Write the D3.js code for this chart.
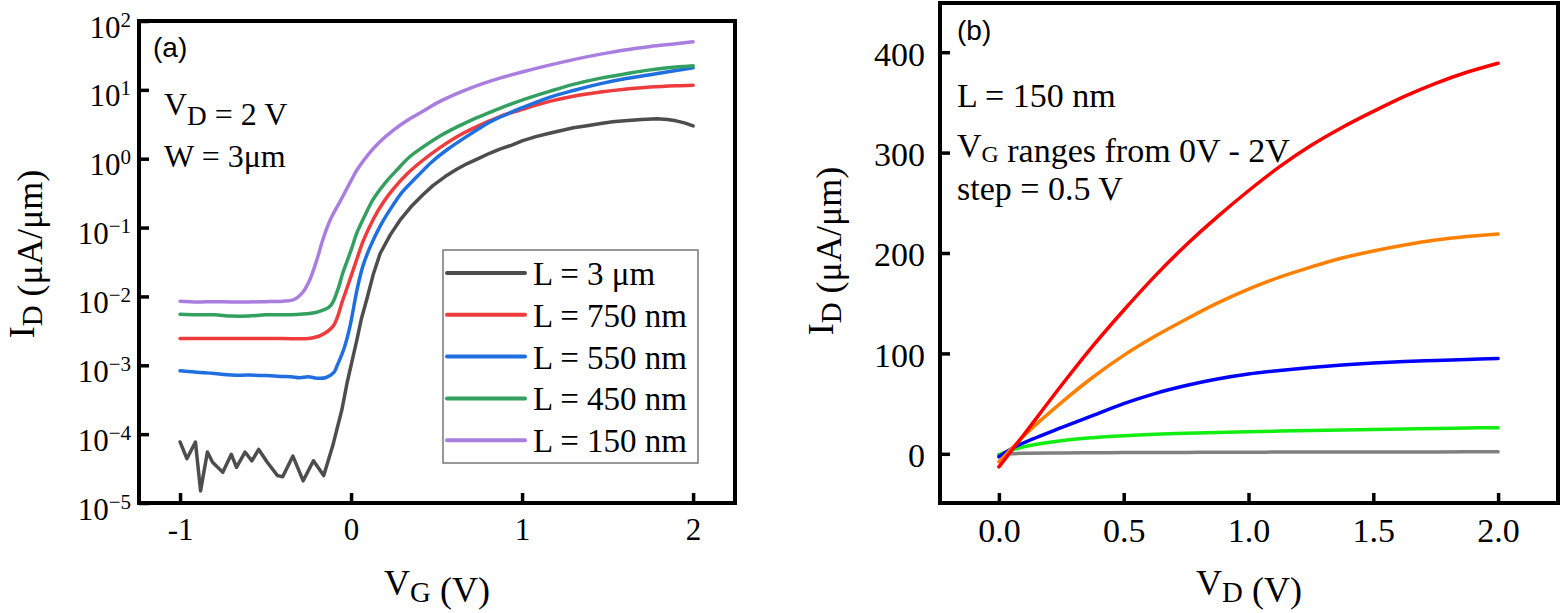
<!DOCTYPE html>
<html>
<head>
<meta charset="utf-8">
<script src="https://cdn.jsdelivr.net/npm/d3@7"></script>
<style>
  body { margin: 0; background: #fff; }
  svg { display: block; }
</style>
</head>
<body>
<script>
// ---------- panel (a): ID-VG at VD = 2 V, W = 3 um ----------
const vg3um = [-1, -0.96, -0.91, -0.88, -0.84, -0.81, -0.75, -0.70, -0.67, -0.62, -0.58, -0.54, -0.49, -0.43, -0.40, -0.34, -0.28, -0.22, -0.16, -0.105,
  -0.053, -0.023, 0.035, 0.06, 0.094, 0.13, 0.17, 0.23, 0.29, 0.35, 0.42, 0.48, 0.55, 0.62, 0.68, 0.75, 0.81, 0.87, 0.94, 1.0,
  1.08, 1.16, 1.23, 1.3, 1.38, 1.46, 1.53, 1.6, 1.7, 1.79, 1.85, 1.9, 1.95, 2.0];
const id3um = [7.7e-5, 4.4e-5, 7.7e-5, 1.5e-5, 5.5e-5, 3.9e-5, 2.8e-5, 5.1e-5, 3.3e-5, 5.5e-5, 4.1e-5, 6.0e-5, 3.9e-5, 2.5e-5, 2.4e-5, 4.8e-5, 2.1e-5, 4.1e-5, 2.5e-5, 7.1e-5,
  2.3e-4, 5.6e-4, 2.4e-3, 4.7e-3, 9.5e-3, 2.1e-2, 4.2e-2, 7.9e-2, 0.132, 0.2, 0.30, 0.41, 0.55, 0.71, 0.85, 1.02, 1.20, 1.38, 1.58, 1.82,
  2.09, 2.34, 2.57, 2.82, 3.02, 3.24, 3.43, 3.55, 3.72, 3.8, 3.72, 3.55, 3.31, 3.0];

const vg750 = [-1, -0.8, -0.6, -0.4, -0.25, -0.18, -0.105, -0.047, -0.006, 0.035, 0.07, 0.13, 0.187, 0.25, 0.327, 0.42, 0.52, 0.65, 0.81, 0.87,
  1.0, 1.16, 1.3, 1.46, 1.6, 1.75, 1.9, 2.0];
const id750 = [2.45e-3, 2.45e-3, 2.45e-3, 2.45e-3, 2.45e-3, 2.7e-3, 3.7e-3, 9.1e-3, 1.78e-2, 3.55e-2, 6.3e-2, 0.132, 0.229, 0.37, 0.60, 0.95, 1.45, 2.3, 3.55, 4.1,
  5.2, 6.8, 8.1, 9.3, 10.2, 11.0, 11.5, 11.7];

const vg550 = [-1, -0.95, -0.9, -0.8, -0.7, -0.6, -0.5, -0.4, -0.35, -0.3, -0.25, -0.2, -0.15, -0.1, -0.082, -0.04, -0.006, 0.035, 0.07, 0.111,
  0.17, 0.228, 0.3, 0.386, 0.47, 0.561, 0.7, 0.81, 0.87, 1.0, 1.16, 1.3, 1.46, 1.6, 1.75, 1.9, 2.0];
const id550 = [8.3e-4, 8.1e-4, 7.9e-4, 7.6e-4, 7.2e-4, 7.2e-4, 7.1e-4, 6.9e-4, 6.8e-4, 6.6e-4, 6.8e-4, 6.5e-4, 6.6e-4, 7.9e-4, 9.8e-4, 1.78e-3, 3.7e-3, 1.26e-2, 2.8e-2, 5.2e-2,
  0.105, 0.182, 0.33, 0.55, 0.89, 1.35, 2.3, 3.4, 4.0, 5.5, 7.8, 9.8, 12.3, 14.5, 16.6, 19.1, 20.9];

const vg450 = [-1, -0.9, -0.8, -0.7, -0.6, -0.5, -0.4, -0.3, -0.2, -0.123, -0.08, -0.047, 0, 0.035, 0.08, 0.129, 0.2, 0.269, 0.34, 0.421,
  0.52, 0.62, 0.72, 0.81, 0.87, 1.0, 1.16, 1.3, 1.46, 1.6, 1.75, 1.9, 2.0];
const id450 = [5.5e-3, 5.4e-3, 5.4e-3, 5.2e-3, 5.2e-3, 5.4e-3, 5.4e-3, 5.5e-3, 5.9e-3, 7.2e-3, 1.2e-2, 2.24e-2, 4.7e-2, 8.5e-2, 0.148, 0.257, 0.447, 0.69, 1.05, 1.48,
  2.14, 2.9, 3.8, 4.7, 5.4, 7.1, 9.5, 12.0, 14.8, 17.0, 19.5, 21.4, 22.4];

const vg150 = [-1, -0.9, -0.8, -0.7, -0.6, -0.5, -0.4, -0.33, -0.28, -0.24, -0.2, -0.164, -0.12, -0.064, 0, 0.035, 0.1, 0.17, 0.25, 0.33,
  0.42, 0.52, 0.65, 0.77, 0.87, 1.0, 1.16, 1.3, 1.46, 1.6, 1.75, 1.9, 2.0];
const id150 = [8.5e-3, 8.3e-3, 8.4e-3, 8.3e-3, 8.3e-3, 8.4e-3, 8.5e-3, 9.1e-3, 1.17e-2, 1.78e-2, 3.4e-2, 6.8e-2, 0.132, 0.24, 0.48, 0.69, 1.15, 1.78, 2.63, 3.63,
  4.9, 6.8, 9.5, 12.3, 14.8, 18.2, 22.9, 27.5, 33.0, 38.0, 42.7, 46.8, 50.1];

const legendA = ["L = 3 \u03bcm", "L = 750 nm", "L = 550 nm", "L = 450 nm", "L = 150 nm"];
const colorsA = ["#4d4d4d", "#ee3b3b", "#1f6fe0", "#33a060", "#aa7ee0"];
const vgTicks = [-1, 0, 1, 2];
const idTicks = [1e-5, 1e-4, 1e-3, 1e-2, 1e-1, 1e0, 1e1, 1e2];

// ---------- panel (b): ID-VD, L = 150 nm ----------
const vd = [0, 0.05, 0.1, 0.25, 0.375, 0.5, 0.625, 0.75, 0.875, 1.0, 1.125, 1.25, 1.375, 1.5, 1.625, 1.75, 1.875, 2.0];
const idVg0 = [-1, 0, 0.5, 0.8, 1, 1.2, 1.3, 1.4, 1.5, 1.6, 1.7, 1.7, 1.8, 1.8, 1.9, 1.9, 2, 2];
const idVg05 = [-1, 3.5, 7, 13, 16, 18, 19.5, 20.5, 21.3, 22, 22.7, 23.3, 23.8, 24.3, 24.8, 25.3, 25.7, 26];
const idVg1 = [-3, 5, 11, 26, 38, 50, 60, 68, 74.5, 79.5, 83, 86, 88.5, 90.5, 92, 93, 94, 95];
const idVg15 = [-8, 5, 18, 51, 76, 98, 117, 134, 150, 164, 176, 186, 195, 202, 208, 213, 216.5, 219];
const idVg2 = [-13, 3, 19, 68, 107, 143, 177, 208, 236, 262, 286, 307, 325, 341, 356, 369, 380, 389];
const colorsB = ["#808080", "#11ee11", "#0000ff", "#ff8000", "#ff0000"];
const vdTicks = [0, 0.5, 1.0, 1.5, 2.0];
const idTicksB = [0, 100, 200, 300, 400];

const serif = '"Liberation Serif","Times New Roman",serif';
const sans = '"Liberation Sans",Arial,sans-serif';

const svg = d3.select("body").append("svg")
  .attr("width", 1563)
  .attr("height", 613);

// text with a subscript part: parts = [[str, isSub], ...]
const richText = (g, x, y, parts, size, sub) => {
  const t = g.append("text")
    .attr("x", x).attr("y", y)
    .attr("font-family", serif)
    .attr("font-size", size)
    .attr("fill", "#000");
  parts.forEach(([s, isSub]) => {
    t.append("tspan")
      .attr("font-size", isSub ? size * sub.scale : size)
      .attr("dy", isSub ? sub.shift : 0)
      .text(s);
    if (isSub) t.append("tspan").attr("dy", -sub.shift).text("");
  });
  return t;
};

const styleAxis = (g, size) => {
  g.select(".domain").remove();
  g.attr("font-family", serif).attr("font-size", size);
  g.selectAll(".tick line").attr("stroke", "#000").attr("stroke-width", 3.5);
  g.selectAll(".tick text").attr("fill", "#000");
};

// ================= panel (a) =================
const boxA = { left: 139, right: 735, top: 21, bottom: 503 };
const xA = d3.scaleLinear().domain([-1.24, 2.245]).range([boxA.left, boxA.right]);
const yA = d3.scaleLog().domain([1e-5, 1e2]).range([boxA.bottom, boxA.top]);

const gA = svg.append("g");

const smooth = d3.curveCatmullRom.alpha(0.5);
const seriesA = [
  { x: vg3um, y: id3um, curve: d3.curveLinear },
  { x: vg750, y: id750, curve: smooth },
  { x: vg550, y: id550, curve: smooth },
  { x: vg450, y: id450, curve: smooth },
  { x: vg150, y: id150, curve: smooth },
];

gA.append("g")
  .selectAll("path")
  .data(seriesA)
  .join("path")
    .attr("d", s => d3.line()
      .x(d => xA(d[0]))
      .y(d => yA(d[1]))
      .curve(s.curve)(s.x.map((v, i) => [v, s.y[i]])))
    .attr("fill", "none")
    .attr("stroke", (s, i) => colorsA[i])
    .attr("stroke-width", 3.5)
    .attr("stroke-linejoin", "round")
    .attr("stroke-linecap", "round");

const axA = gA.append("g")
  .attr("transform", `translate(0,${boxA.bottom})`)
  .call(d3.axisBottom(xA).tickValues(vgTicks).tickSize(-10).tickPadding(15)
    .tickFormat(d => d < 0 ? "-" + Math.abs(d) : String(d)));
styleAxis(axA, 31);

const ayA = gA.append("g")
  .attr("transform", `translate(${boxA.left},0)`)
  .call(d3.axisLeft(yA).tickValues(idTicks).tickSize(-10).tickPadding(8).tickFormat(() => ""));
styleAxis(ayA, 31);
ayA.selectAll(".tick text")
  .attr("dy", "0.52em")
  .each(function (d) {
    const t = d3.select(this);
    const e = Math.round(Math.log10(d));
    t.append("tspan").text("10");
    t.append("tspan").attr("font-size", 21).attr("dy", -11)
      .text(e < 0 ? "\u2212" + Math.abs(e) : String(e));
  });

gA.append("rect")
  .attr("x", boxA.left).attr("y", boxA.top)
  .attr("width", boxA.right - boxA.left).attr("height", boxA.bottom - boxA.top)
  .attr("fill", "none").attr("stroke", "#000").attr("stroke-width", 4);

// legend
const legA = gA.append("g");
legA.append("rect")
  .attr("x", 443).attr("y", 250).attr("width", 255).attr("height", 213)
  .attr("fill", "#fff").attr("stroke", "#777").attr("stroke-width", 1.5);
legendA.forEach((lab, i) => {
  const y = 285 + i * 41.8;
  legA.append("line")
    .attr("x1", 447).attr("x2", 525).attr("y1", y - 12).attr("y2", y - 12)
    .attr("stroke", colorsA[i]).attr("stroke-width", 4).attr("stroke-linecap", "round");
  legA.append("text")
    .attr("x", 533).attr("y", y)
    .attr("font-family", serif).attr("font-size", 33)
    .text(lab);
});

// annotations
gA.append("text").attr("x", 153).attr("y", 57)
  .attr("font-family", sans).attr("font-size", 28).text("(a)");
richText(gA, 164, 115, [["V"], ["D", true], [" = 2 V"]], 32, { scale: 0.85, shift: 10 });
richText(gA, 164, 167, [["W = 3\u03bcm"]], 32, { scale: 1, shift: 0 });

// axis titles
richText(gA, 437, 595, [["V"], ["G", true], [" (V)"]], 36, { scale: 0.8, shift: 7 })
  .attr("text-anchor", "middle");
richText(gA.append("g").attr("transform", "translate(34,254) rotate(-90)"), 0, 0,
  [["I"], ["D", true], [" (\u03bcA/\u03bcm)"]], 36, { scale: 0.8, shift: 8 })
  .attr("text-anchor", "middle");

// ================= panel (b) =================
const boxB = { left: 940, right: 1558, top: 3, bottom: 503 };
const xB = d3.scaleLinear().domain([-0.236, 2.24]).range([boxB.left, boxB.right]);
const yB = d3.scaleLinear().domain([-49, 449]).range([boxB.bottom, boxB.top]);

const gB = svg.append("g");

const seriesB = [idVg0, idVg05, idVg1, idVg15, idVg2];

const lineB = d3.line()
  .x((d, i) => xB(vd[i]))
  .y(d => yB(d))
  .curve(smooth);

gB.append("g")
  .selectAll("path")
  .data(seriesB)
  .join("path")
    .attr("d", s => lineB(s))
    .attr("fill", "none")
    .attr("stroke", (s, i) => colorsB[i])
    .attr("stroke-width", 3.5)
    .attr("stroke-linejoin", "round")
    .attr("stroke-linecap", "round");

const axB = gB.append("g")
  .attr("transform", `translate(0,${boxB.bottom})`)
  .call(d3.axisBottom(xB).tickValues(vdTicks).tickSize(-10).tickPadding(15).tickFormat(d3.format(".1f")));
styleAxis(axB, 34);

const ayB = gB.append("g")
  .attr("transform", `translate(${boxB.left},0)`)
  .call(d3.axisLeft(yB).tickValues(idTicksB).tickSize(-10).tickPadding(15));
styleAxis(ayB, 34);
ayB.selectAll(".tick text").attr("dy", "0.38em");

gB.append("rect")
  .attr("x", boxB.left).attr("y", boxB.top)
  .attr("width", boxB.right - boxB.left).attr("height", boxB.bottom - boxB.top)
  .attr("fill", "none").attr("stroke", "#000").attr("stroke-width", 4);

// annotations
gB.append("text").attr("x", 957).attr("y", 40)
  .attr("font-family", sans).attr("font-size", 28).text("(b)");
richText(gB, 957, 107, [["L = 150 nm"]], 34, { scale: 1, shift: 0 });
richText(gB, 957, 157, [["V"], ["G", true], [" ranges from 0V - 2V"]], 34, { scale: 0.7, shift: 5 });
richText(gB, 957, 200, [["step = 0.5 V"]], 34, { scale: 1, shift: 0 });

// axis titles
richText(gB, 1249, 595, [["V"], ["D", true], [" (V)"]], 36, { scale: 0.8, shift: 7 })
  .attr("text-anchor", "middle");
richText(gB.append("g").attr("transform", "translate(833,251) rotate(-90)"), 0, 0,
  [["I"], ["D", true], [" (\u03bcA/\u03bcm)"]], 36, { scale: 0.8, shift: 8 })
  .attr("text-anchor", "middle");
</script>
</body>
</html>
